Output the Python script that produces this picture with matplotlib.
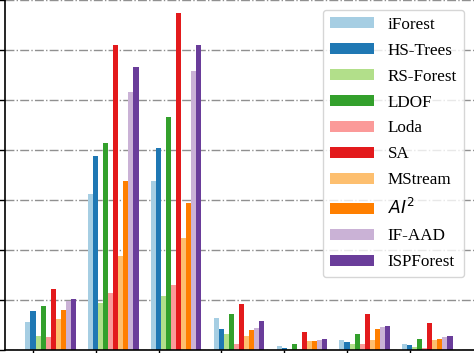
#!/usr/bin/env python3
import matplotlib
matplotlib.use('Agg')
import matplotlib.pyplot as plt
import numpy as np

# Per-method values for each group (tick labels are cropped out of the reference)
methods = ['iForest', 'HS-Trees', 'RS-Forest', 'LDOF', 'Loda', 'SA',
           'MStream', '$AI^2$', 'IF-AAD', 'ISPForest']
iforest = [0.55, 3.11, 3.38, 0.63, 0.07, 0.19, 0.12]
hs_trees = [0.77, 3.88, 4.03, 0.42, 0.04, 0.16, 0.09]
rs_forest = [0.27, 0.94, 1.07, 0.32, 0.02, 0.11, 0.05]
ldof = [0.87, 4.13, 4.66, 0.71, 0.11, 0.31, 0.22]
loda = [0.25, 1.14, 1.30, 0.11, 0.02, 0.11, 0.03]
sa = [1.21, 6.09, 6.74, 0.91, 0.35, 0.71, 0.54]
mstream = [0.62, 1.88, 2.24, 0.27, 0.18, 0.20, 0.19]
ai2 = [0.79, 3.38, 2.93, 0.40, 0.18, 0.42, 0.22]
if_aad = [0.97, 5.16, 5.58, 0.44, 0.19, 0.46, 0.26]
ispforest = [1.01, 5.66, 6.10, 0.58, 0.21, 0.47, 0.27]

series = [iforest, hs_trees, rs_forest, ldof, loda, sa,
          mstream, ai2, if_aad, ispforest]
colors = [plt.cm.Paired(i) for i in range(10)]

fig = plt.figure(figsize=(4.74, 3.53), dpi=100)
# the reference is a crop: axes runs past the top and right edges
ax = fig.add_axes([5 / 474, 3.5 / 353, 499 / 474, 375 / 353])
ax.set_axisbelow(True)

x = np.arange(len(iforest))
width = 0.08
for i, (vals, label) in enumerate(zip(series, methods)):
    ax.bar(x + (i - 1) * width, vals, width, color=colors[i], label=label)

ax.set_xlim(-0.446, 7.5)
ax.set_ylim(0, 7.5)
ax.set_xticks(x)
ax.set_yticks(np.arange(0, 8, 1))
ax.tick_params(labelleft=False, labelbottom=False, direction='out',
               length=4, width=1, color='black')
ax.yaxis.grid(True, linestyle='-.', color='#909090', linewidth=1)
for side in ['left', 'bottom']:
    ax.spines[side].set_linewidth(1.2)

ax.legend(loc='upper right', bbox_to_anchor=(464 / 474, 1 - 10 / 353),
          bbox_transform=fig.transFigure, borderaxespad=0,
          prop={'family': 'Liberation Serif', 'size': 12.3},
          handlelength=2.6, handleheight=0.6, labelspacing=0.58)

plt.savefig('out.png', dpi=100)
plt.close()
